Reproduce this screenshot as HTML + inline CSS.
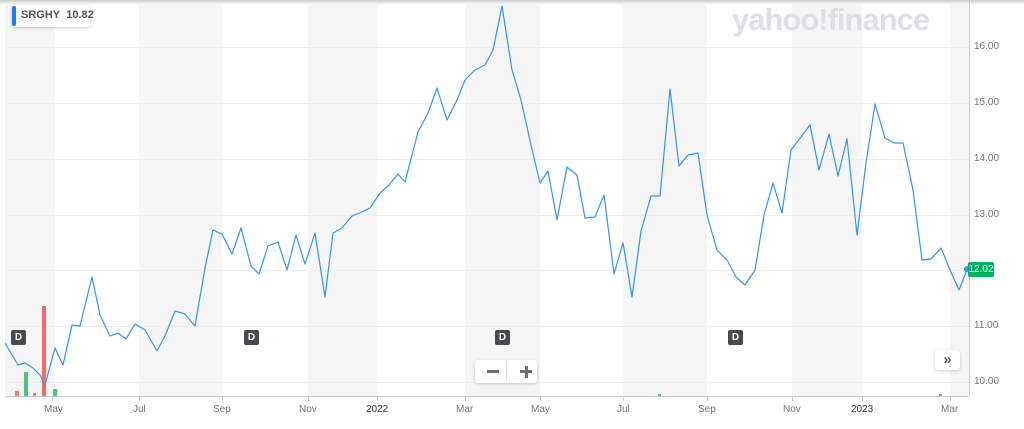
<!DOCTYPE html>
<html><head><style>
body{margin:0;width:1024px;height:429px;background:#fff;overflow:hidden;font-family:"Liberation Sans",sans-serif;position:relative}
.t{position:absolute;font-size:10px;color:#6e7379}
</style></head><body>
<svg width="1024" height="429" style="position:absolute;left:0;top:0">
<defs><linearGradient id="sh" x1="0" y1="0" x2="0" y2="1"><stop offset="0" stop-color="#ccc"/><stop offset="1" stop-color="#fff"/></linearGradient></defs>
<g fill="#f5f5f5">
<rect x="5" y="0" width="50" height="396"/><rect x="139" y="0" width="83" height="396"/><rect x="308" y="0" width="69" height="396"/><rect x="465" y="0" width="75" height="396"/><rect x="623" y="0" width="84" height="396"/><rect x="792" y="0" width="70" height="396"/><rect x="950" y="0" width="19" height="396"/>
</g>
<rect x="0" y="0" width="1024" height="5" fill="url(#sh)"/>
<g stroke="#eeeeee" stroke-width="1">
<line x1="5" x2="969" y1="47.5" y2="47.5"/><line x1="5" x2="969" y1="103.5" y2="103.5"/><line x1="5" x2="969" y1="159.5" y2="159.5"/><line x1="5" x2="969" y1="215.5" y2="215.5"/><line x1="5" x2="969" y1="270.5" y2="270.5"/><line x1="5" x2="969" y1="326.5" y2="326.5"/><line x1="5" x2="969" y1="382.5" y2="382.5"/>
</g>
<line x1="969.5" y1="0" x2="969.5" y2="396" stroke="#ccc"/>
<line x1="5" y1="396.5" x2="969" y2="396.5" stroke="#ccc"/>
<g stroke="#ccc"><line x1="52.5" x2="52.5" y1="396" y2="401"/><line x1="139.5" x2="139.5" y1="396" y2="401"/><line x1="222.5" x2="222.5" y1="396" y2="401"/><line x1="308.5" x2="308.5" y1="396" y2="401"/><line x1="377.5" x2="377.5" y1="396" y2="401"/><line x1="465.5" x2="465.5" y1="396" y2="401"/><line x1="540.5" x2="540.5" y1="396" y2="401"/><line x1="623.5" x2="623.5" y1="396" y2="401"/><line x1="707.5" x2="707.5" y1="396" y2="401"/><line x1="792.5" x2="792.5" y1="396" y2="401"/><line x1="862.5" x2="862.5" y1="396" y2="401"/><line x1="950.5" x2="950.5" y1="396" y2="401"/></g>
<text x="732" y="30" font-size="31" font-weight="bold" fill="#dcdfe3" font-family="Liberation Sans,sans-serif" letter-spacing="-1">yahoo!finance</text>
<rect x="15" y="391" width="4" height="5" fill="#f27c7c"/>
<rect x="24" y="372" width="4" height="24" fill="#4dc487"/>
<rect x="33" y="393" width="3" height="3" fill="#f27c7c"/>
<rect x="42" y="306" width="4" height="90" fill="#f66"/>
<rect x="53" y="389" width="4" height="7" fill="#4dc487"/>
<rect x="658" y="394" width="3" height="2" fill="#4dc487"/>
<rect x="939" y="394" width="3" height="2" fill="#4dc487"/>
<polyline fill="none" stroke="#2e96f0" stroke-width="1.2" stroke-linejoin="round" points="5,343 18,365 25,363 33,368 40,375 45,385 55,348 63,365 72,325 80,326 92,277 100,315 110,336 118,333 126,339 135,324 145,330 157,351 165,336 175,311 185,314 195,326 205,268 213,230 222,234 232,254 241,228 251,266 259,274 268,246 278,242 287,270 296,235 305,264 315,233 325,297 333,233 342,228 352,216 362,212 370,208 380,193 388,186 398,174 405,182 418,132 428,113 437,88 447,120 457,100 465,80 475,70 485,65 493,50 502,6 512,70 521,100 531,145 540,183 548,171 557,220 567,167 577,175 585,218 595,217 604,195 614,274 623,243 632,297 641,231 651,196 660,196 670,89 679,166 688,155 698,153 707,215 717,250 727,260 736,277 745,285 755,270 764,215 773,183 782,213 791,150 801,137 810,125 819,170 829,134 838,176 847,139 857,235 866,163 875,104 885,138 894,143 903,143 913,190 922,260 931,259 941,248 950,270 959,290 967,270"/>
<circle cx="967" cy="269" r="3" fill="#2e96f0"/>
</svg>
<div style="position:absolute;left:12px;top:5px;width:78px;height:22px;background:#fff;border-radius:3px;box-shadow:0 1px 3px rgba(0,0,0,.2)"></div>
<div style="position:absolute;left:12px;top:6px;width:4px;height:20px;background:#1a7cf5;border-radius:2px"></div>
<div style="position:absolute;left:21px;top:9px;font-size:11px;font-weight:bold;color:#505459">SRGHY&nbsp; 10.82</div>
<div class="t" style="left:974px;top:41px">16.00</div>
<div class="t" style="left:974px;top:97px">15.00</div>
<div class="t" style="left:974px;top:153px">14.00</div>
<div class="t" style="left:974px;top:209px">13.00</div>
<div class="t" style="left:974px;top:320px">11.00</div>
<div class="t" style="left:974px;top:376px">10.00</div>
<div style="position:absolute;left:968px;top:262px;width:26px;height:15px;background:#00b060;border-radius:2px;color:#fff;font-size:10px;line-height:15px;text-align:center">12.02</div>
<div class="t" style="left:44px;top:404px">May</div>
<div class="t" style="left:133px;top:404px">Jul</div>
<div class="t" style="left:213px;top:404px">Sep</div>
<div class="t" style="left:299px;top:404px">Nov</div>
<div class="t" style="left:366px;top:404px;color:#333">2022</div>
<div class="t" style="left:456px;top:404px">Mar</div>
<div class="t" style="left:531px;top:404px">May</div>
<div class="t" style="left:617px;top:404px">Jul</div>
<div class="t" style="left:698px;top:404px">Sep</div>
<div class="t" style="left:783px;top:404px">Nov</div>
<div class="t" style="left:851px;top:404px;color:#333">2023</div>
<div class="t" style="left:941px;top:404px">Mar</div>
<div style="position:absolute;left:11px;top:330px;width:15px;height:15px;background:#464b52;border-radius:2px;color:#fff;font-size:10px;font-weight:bold;line-height:15px;text-align:center">D</div>
<div style="position:absolute;left:244px;top:330px;width:15px;height:15px;background:#464b52;border-radius:2px;color:#fff;font-size:10px;font-weight:bold;line-height:15px;text-align:center">D</div>
<div style="position:absolute;left:495px;top:330px;width:15px;height:15px;background:#464b52;border-radius:2px;color:#fff;font-size:10px;font-weight:bold;line-height:15px;text-align:center">D</div>
<div style="position:absolute;left:728px;top:330px;width:15px;height:15px;background:#464b52;border-radius:2px;color:#fff;font-size:10px;font-weight:bold;line-height:15px;text-align:center">D</div>
<div style="position:absolute;left:475px;top:360px;width:62px;height:23px;background:#fff;border-radius:3px;box-shadow:0 1px 3px rgba(0,0,0,.2)">
<div style="position:absolute;left:12px;top:10px;width:12px;height:3px;background:#6b6f75"></div>
<div style="position:absolute;left:31px;top:3px;width:1px;height:17px;background:#e0e0e0"></div>
<div style="position:absolute;left:45px;top:10px;width:12px;height:3px;background:#6b6f75"></div>
<div style="position:absolute;left:49.5px;top:5.5px;width:3px;height:12px;background:#6b6f75"></div>
</div>
<div style="position:absolute;left:935px;top:350px;width:25px;height:20px;background:#fff;border-radius:3px;box-shadow:0 1px 3px rgba(0,0,0,.2);color:#555;font-size:15px;font-weight:bold;line-height:20px;text-align:center">»</div>
</body></html>
